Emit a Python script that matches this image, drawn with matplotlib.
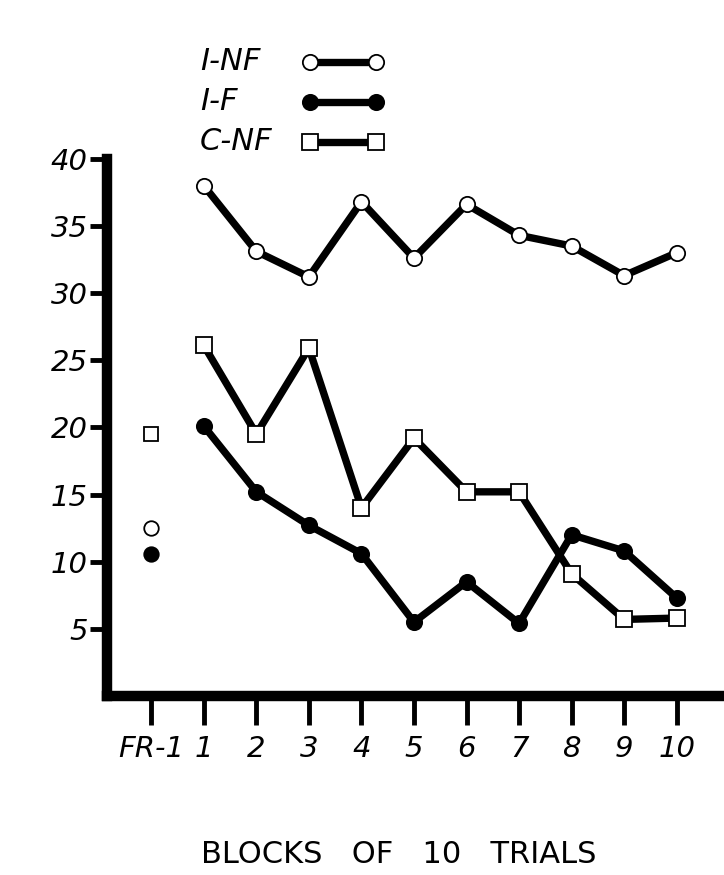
import numpy as np
import matplotlib
matplotlib.use("Agg")
import matplotlib.pyplot as plt
from matplotlib.lines import Line2D

# x-Kategorien
tick_labels = ["FR-1", "1", "2", "3", "4", "5", "6", "7", "8", "9", "10"]

# Werte
i_nf = [12.5, 38.0, 33.1, 31.2, 36.8, 32.6, 36.6, 34.3, 33.5, 31.3, 33.0]
i_f = [10.6, 20.1, 15.2, 12.7, 10.6, 5.5, 8.5, 5.4, 12.0, 10.8, 7.3]
c_nf = [19.5, 26.1, 19.5, 25.9, 14.0, 19.2, 15.2, 15.2, 9.1, 5.7, 5.8]

y_ticks = [5, 10, 15, 20, 25, 30, 35, 40]

x = np.arange(len(tick_labels))

fig = plt.figure(figsize=(7.24, 8.75), dpi=100)
ax = fig.add_axes([0.148, 0.2046, 0.852, 0.614])

lw = 5.3
ms = 11
series = [
    (i_nf, "o", "white", "I-NF"),
    (i_f, "o", "black", "I-F"),
    (c_nf, "s", "white", "C-NF"),
]
for vals, mk, fc, lab in series:
    # FR-1 Punkt separat, ohne Verbindungslinie
    ax.plot(x[0], vals[0], linestyle="none", marker=mk, markersize=ms * 0.95,
            markerfacecolor=fc, markeredgecolor="black", markeredgewidth=1.3, zorder=3)
    ax.plot(x[1:], vals[1:], color="black", linewidth=lw, marker=mk, markersize=ms,
            markerfacecolor=fc, markeredgecolor="black", markeredgewidth=1.3,
            label=lab, zorder=3)

ax.set_xlim(-0.84, 10.9)
ax.set_ylim(0, 40)

for side in ["top", "right"]:
    ax.spines[side].set_visible(False)
for side in ["left", "bottom"]:
    ax.spines[side].set_linewidth(7.5)
    ax.spines[side].set_capstyle("projecting")

ax.set_xticks(x)
ax.set_xticklabels(tick_labels)
ax.set_yticks(y_ticks)
ax.set_yticklabels([str(v) for v in y_ticks])

ax.tick_params(axis="x", direction="out", length=21, width=3.5, pad=7,
               labelsize=21)
ax.tick_params(axis="y", direction="out", length=12, width=3.5, pad=2,
               labelsize=21)
for t in ax.get_xticklabels() + ax.get_yticklabels():
    t.set_fontstyle("italic")

fig.text(0.551, 0.023, "BLOCKS   OF   10   TRIALS", ha="center", va="center",
         fontsize=22)

# Legende von Hand: Text links, Linie mit Markern rechts
W, H = 724, 875
leg_rows = [62, 102, 142]
for (vals, mk, fc, lab), yy in zip(series, leg_rows):
    fy = 1 - yy / H
    fig.text(200 / W, fy, lab, ha="left", va="center", fontsize=22,
             fontstyle="italic")
    fig.add_artist(Line2D([310 / W, 376 / W], [fy, fy], transform=fig.transFigure,
                          color="black", linewidth=lw, marker=mk, markersize=ms,
                          markerfacecolor=fc, markeredgecolor="black",
                          markeredgewidth=1.3))

fig.savefig("out.png", dpi=100)
